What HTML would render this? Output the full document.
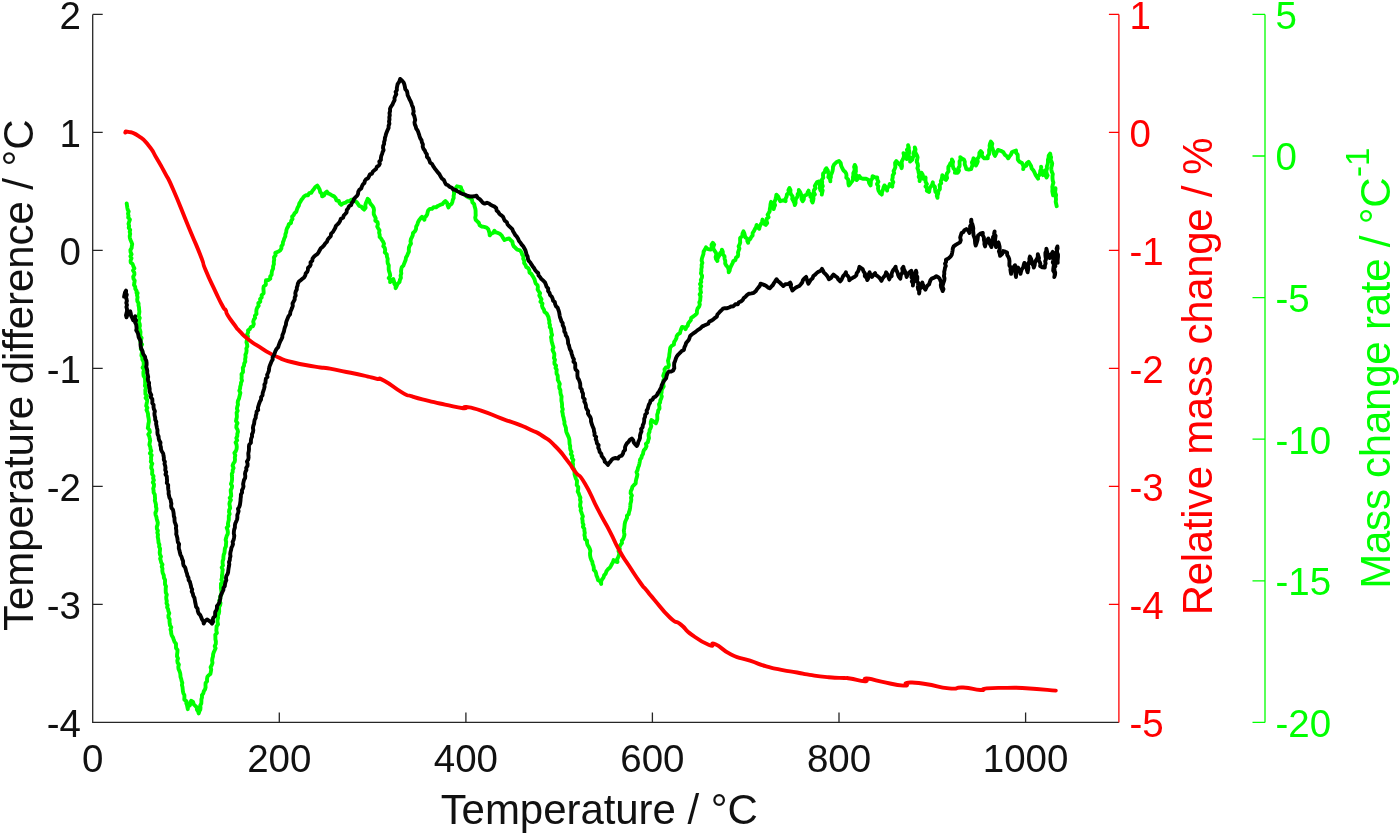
<!DOCTYPE html>
<html><head><meta charset="utf-8"><title>TG-DTA</title><style>
html,body{margin:0;padding:0;background:#fff;overflow:hidden}
svg{display:block}
text{font-family:"Liberation Sans",Arial,sans-serif}
</style></head><body>
<svg width="1400" height="835" viewBox="0 0 1400 835">
<rect width="1400" height="835" fill="#fff"/>
<g fill="none" stroke-linejoin="round" stroke-linecap="round">
<path d="M126.7 203.4L127.0 205.5L127.3 207.6L127.7 209.6L128.7 211.5L128.0 213.6L128.5 215.6L128.2 217.6L129.9 219.6L129.2 221.7L128.5 223.8L129.1 225.8L128.7 227.8L130.2 229.8L129.7 231.9L130.2 233.9L129.7 236.0L129.9 238.0L130.5 240.0L131.4 242.0L132.2 244.1L131.8 246.1L131.6 248.1L130.4 250.1L130.6 252.2L131.6 254.3L130.4 256.3L131.5 258.3L130.6 260.4L130.7 262.4L132.6 264.0L133.4 266.4L134.4 268.4L133.0 270.5L134.3 272.5L134.4 274.5L133.2 276.6L133.5 278.7L134.7 280.6L134.4 282.7L134.0 284.9L135.2 286.8L135.3 288.9L136.6 290.8L136.5 293.0L137.7 293.0L137.0 295.1L137.6 297.2L137.2 299.3L137.4 301.3L138.6 303.4L138.5 305.4L139.0 307.5L139.1 309.6L139.4 311.7L139.1 313.8L138.6 315.9L139.8 317.9L139.0 320.0L138.9 322.0L139.7 324.0L139.9 326.0L139.2 328.1L140.0 330.0L140.5 332.0L140.4 334.0L140.2 336.0L141.6 337.9L141.0 340.0L140.3 342.3L142.1 344.4L140.9 346.7L140.8 349.0L142.4 351.1L141.7 353.4L141.4 355.5L142.4 357.4L142.3 359.5L143.5 361.4L143.7 363.5L143.7 365.5L142.6 367.7L144.2 369.6L143.4 371.8L143.4 373.8L143.6 375.9L144.9 377.8L145.1 379.8L145.1 381.9L145.2 383.9L144.9 385.9L146.3 387.8L145.3 389.9L145.4 391.9L145.4 393.9L147.0 395.8L145.6 397.9L147.2 399.8L147.0 401.8L146.6 403.9L146.2 405.9L147.4 407.8L146.5 409.9L147.4 411.8L148.0 413.8L148.1 415.8L148.5 417.8L148.8 419.7L148.9 421.8L148.4 423.8L148.2 425.9L147.8 428.1L149.5 430.1L149.9 432.1L148.3 434.4L149.3 436.4L149.7 438.5L150.2 440.6L149.7 442.7L149.4 444.8L150.3 446.9L150.5 449.0L151.3 451.0L149.9 453.3L151.7 455.2L151.0 457.4L151.2 459.5L150.8 461.7L152.3 463.6L151.4 465.8L151.2 468.0L152.2 470.0L152.2 472.1L152.1 474.2L153.5 476.1L153.1 478.2L153.9 480.2L152.8 482.4L154.0 484.3L153.9 486.4L153.2 488.5L153.6 490.6L153.6 492.6L154.8 494.6L154.9 496.6L155.1 498.7L154.8 500.7L155.5 502.7L156.0 504.7L155.9 506.7L156.5 508.6L156.3 510.7L155.4 512.8L155.6 514.8L156.3 516.7L156.7 518.7L157.2 520.7L157.8 522.6L157.6 524.7L156.8 526.7L156.9 528.8L157.9 530.7L157.3 532.7L158.0 534.7L157.7 536.8L158.1 538.7L158.4 540.7L158.5 542.7L159.4 544.6L159.1 546.7L160.1 548.6L159.9 550.7L159.7 552.7L160.0 554.7L161.0 556.6L160.1 558.7L160.8 560.7L161.2 562.6L162.5 564.5L161.7 566.6L162.5 568.6L162.3 570.6L162.7 573.0L163.8 575.3L163.9 577.8L165.1 580.0L165.0 582.1L165.0 584.3L166.0 586.3L165.7 588.4L165.7 590.5L165.8 592.7L166.8 594.7L166.2 596.9L166.3 599.0L166.8 601.0L166.5 603.2L167.6 605.2L167.1 607.3L168.1 609.2L168.4 611.2L169.3 613.2L168.4 615.4L168.5 617.4L169.6 619.3L169.5 621.4L169.7 623.4L170.0 625.4L171.3 627.3L170.5 629.4L171.1 631.4L171.2 633.4L171.8 635.4L173.0 637.4L173.7 639.7L174.5 641.9L176.0 643.8L176.0 645.9L176.0 648.0L177.5 650.0L177.4 652.1L177.1 654.2L177.0 656.4L178.0 658.4L177.3 660.6L177.6 662.6L178.9 664.6L178.3 666.8L178.5 668.9L179.4 670.8L180.1 672.8L180.4 674.8L180.5 676.9L181.2 678.9L181.6 680.9L182.3 682.9L181.9 685.0L182.5 687.0L182.7 689.1L182.9 691.2L183.4 693.3L184.4 695.2L184.4 697.4L184.3 699.6L186.4 701.1L186.3 703.3L187.0 705.2L187.4 707.2L187.8 709.2L188.0 706.8L190.0 705.2L190.1 702.8L191.1 700.8L193.1 701.9L193.7 704.3L195.3 705.8L196.8 707.4L196.9 709.6L198.1 711.4L198.7 713.4L199.3 711.4L200.3 709.6L200.5 707.5L200.2 705.4L201.3 703.5L201.4 701.5L201.4 699.4L202.0 697.4L201.9 695.2L203.3 693.4L203.8 691.3L205.0 689.4L205.6 687.4L205.5 685.2L205.6 683.0L207.1 681.2L207.0 679.0L207.4 676.8L208.7 675.3L210.4 674.0L210.8 671.8L211.2 669.5L210.6 667.2L211.8 665.0L212.5 662.8L212.1 660.5L212.4 658.4L213.0 656.5L213.1 654.4L213.7 652.4L214.6 650.5L215.6 648.3L214.7 646.0L215.8 643.8L215.9 641.5L215.4 639.3L215.4 637.0L215.3 634.8L216.9 632.9L216.3 630.6L216.5 628.5L216.6 626.3L218.1 624.4L217.5 622.1L217.5 619.9L218.1 617.8L217.8 615.6L218.8 613.6L219.2 611.5L219.1 609.3L219.1 607.1L220.2 605.1L220.5 602.9L219.2 600.6L220.4 598.6L220.1 596.4L221.5 594.4L221.5 592.2L221.2 590.0L220.9 587.9L221.0 585.9L220.9 583.8L222.5 581.9L221.4 579.7L222.0 577.7L221.9 575.7L222.3 573.6L222.4 571.6L222.7 569.6L221.7 567.5L223.0 565.5L222.6 563.4L222.6 561.2L223.4 559.1L223.4 556.9L223.7 554.7L224.5 552.7L224.7 550.5L224.9 548.3L225.9 546.3L226.0 544.1L226.2 541.9L225.6 539.8L226.2 537.9L226.7 535.9L227.7 534.0L227.9 532.0L227.5 529.9L226.7 527.8L228.3 525.9L227.9 523.9L228.3 521.9L228.8 519.9L228.8 517.9L228.8 515.9L229.7 514.0L229.0 511.9L229.2 509.9L230.2 508.0L229.8 505.9L229.4 503.9L229.8 501.9L230.9 500.0L229.7 497.9L231.2 496.0L231.1 494.0L230.8 491.9L230.7 489.9L231.8 488.0L232.1 486.0L230.9 483.9L231.7 482.0L232.0 480.0L232.1 478.0L231.9 476.0L231.8 473.9L232.7 472.0L232.7 470.0L233.6 468.0L232.6 465.7L233.3 463.6L234.7 461.7L235.0 459.6L234.8 457.4L235.3 455.3L234.4 453.0L235.9 451.0L236.6 448.9L236.8 446.8L236.5 444.6L235.6 442.4L237.2 440.4L236.3 438.1L237.3 436.1L237.3 433.9L238.0 431.7L237.5 429.6L236.3 427.5L236.5 425.3L237.5 423.1L236.0 421.0L236.5 418.8L236.9 416.8L236.8 414.8L236.6 412.7L237.7 410.8L236.9 408.6L237.3 406.7L238.0 404.7L237.7 402.6L238.0 400.6L239.0 398.7L239.4 396.7L239.9 394.7L240.4 392.8L239.3 390.6L240.1 388.6L240.2 386.6L240.9 384.7L241.0 382.6L242.0 380.7L241.5 378.6L241.7 376.4L241.5 374.2L243.0 372.2L243.0 370.0L242.8 367.7L244.0 365.7L244.2 363.5L245.3 361.5L245.1 359.2L245.6 357.0L245.4 354.8L246.3 352.7L246.6 350.5L246.3 348.5L247.3 346.5L247.1 344.5L246.5 342.4L246.8 340.4L247.2 338.4L248.0 336.5L247.1 334.4L248.2 332.4L248.0 330.4L249.8 329.2L250.8 327.0L253.0 326.1L253.8 324.1L253.2 321.8L253.8 319.7L255.1 317.9L254.9 315.7L256.5 313.9L256.3 311.6L256.5 309.5L257.3 307.5L258.7 305.7L258.3 303.1L260.3 301.6L260.1 299.1L261.7 297.4L261.6 295.1L263.6 293.3L263.6 291.0L263.4 288.7L263.7 286.5L265.8 284.7L265.8 282.4L266.0 280.2L268.3 280.0L270.3 278.7L270.2 276.5L271.6 274.8L271.7 272.6L272.1 270.6L273.1 268.7L273.1 266.4L273.9 264.2L273.8 261.9L274.2 259.6L274.0 257.3L275.6 255.2L275.3 252.9L277.9 251.8L280.2 250.3L281.4 248.5L281.4 246.3L282.8 244.5L282.9 242.3L283.7 240.4L284.3 238.3L285.3 236.4L285.4 234.2L286.2 232.3L286.4 230.1L287.1 228.1L288.2 226.4L288.8 224.3L291.0 223.0L291.2 220.8L292.5 219.1L292.1 216.7L293.7 215.1L294.6 213.2L296.3 211.7L296.9 209.6L297.7 207.5L298.8 205.7L299.3 203.5L300.4 201.7L301.5 199.8L302.8 198.2L304.1 196.4L305.8 195.3L308.0 195.2L309.2 193.1L311.3 192.8L312.5 190.7L314.0 188.9L315.3 187.0L317.3 185.6L318.6 187.6L319.7 189.7L320.2 192.1L321.9 193.9L322.1 196.4L324.2 195.3L325.1 193.0L326.9 191.6L328.3 193.5L330.3 194.3L332.1 195.5L334.1 196.4L335.6 198.0L336.4 200.3L338.9 201.0L339.6 203.3L341.3 204.8L343.1 203.3L345.5 202.7L347.3 201.2L349.4 201.2L351.2 199.8L353.3 200.0L355.2 201.1L356.9 202.4L358.1 204.2L359.3 206.0L361.4 206.6L362.6 208.3L364.1 209.6L365.6 207.7L365.3 205.2L365.9 203.0L366.9 200.9L367.7 198.8L369.2 200.4L369.8 202.6L371.0 204.4L372.5 206.0L373.6 207.9L374.0 210.0L373.7 212.2L373.8 214.4L374.8 216.3L375.7 218.3L375.3 220.6L377.5 222.2L377.9 224.3L377.2 226.6L378.3 228.5L379.5 230.4L379.1 232.7L379.7 234.7L379.6 236.9L381.1 238.5L382.1 240.2L383.2 241.9L384.0 243.8L383.3 246.2L384.7 247.8L385.2 250.0L384.8 252.4L386.8 254.3L386.9 256.6L387.7 258.8L387.5 261.1L387.8 263.4L388.8 265.4L388.7 267.5L388.7 269.6L389.2 271.7L389.9 273.7L390.2 275.8L388.7 278.0L390.4 280.0L390.1 282.1L391.7 280.6L393.2 279.0L394.0 281.3L394.3 283.7L395.7 285.8L395.6 288.3L396.6 286.1L397.6 283.8L399.5 282.1L399.9 279.9L400.9 277.8L400.6 275.6L401.3 273.5L401.0 271.2L401.3 269.1L401.8 267.1L403.4 265.6L404.1 263.7L404.9 261.8L405.7 259.8L406.0 257.6L407.1 255.7L407.9 253.7L408.9 251.7L408.8 249.4L409.0 247.3L409.8 245.4L411.0 243.6L410.5 241.3L410.9 239.2L411.8 237.3L412.7 235.4L413.0 232.9L415.0 231.2L416.0 229.1L416.2 226.5L417.4 224.5L418.0 222.2L419.1 220.2L420.5 218.4L422.0 216.7L424.4 219.8L424.6 217.7L426.1 216.1L427.2 214.4L427.6 212.3L428.2 210.4L429.8 208.9L432.0 208.8L433.7 207.1L436.0 207.4L437.9 205.9L440.0 204.9L442.3 204.2L443.7 202.5L445.4 201.1L447.1 202.9L447.6 205.2L448.5 207.4L449.5 205.4L451.5 204.0L452.4 201.9L452.8 199.9L453.7 198.0L453.6 195.9L454.1 193.9L453.9 191.8L455.1 190.0L455.9 188.1L457.0 186.3L460.9 187.1L461.4 189.3L462.6 191.1L463.1 193.3L464.8 194.9L466.4 196.3L468.3 197.3L470.3 198.0L472.0 199.8L472.4 202.4L474.2 204.2L474.6 206.4L475.3 208.6L475.6 210.8L475.6 213.1L475.7 215.3L475.2 217.6L475.7 219.8L477.3 221.4L478.9 223.0L479.6 225.3L481.8 226.5L484.2 226.9L486.6 227.6L488.2 229.2L488.9 231.2L489.5 233.2L489.7 235.4L491.1 233.7L493.3 232.7L494.4 230.7L495.8 232.4L497.9 232.9L499.8 233.8L501.8 235.6L503.0 237.9L504.5 240.0L506.8 239.0L509.2 238.5L510.7 240.2L512.4 241.7L512.8 244.2L513.7 246.3L515.4 247.8L517.2 249.7L520.0 250.4L521.6 252.5L522.2 254.6L523.5 256.5L523.2 258.8L524.3 260.7L524.1 263.1L525.5 264.9L526.2 267.0L528.4 268.2L529.3 270.2L529.5 272.6L531.4 273.9L532.5 275.8L533.6 277.6L534.6 279.5L535.1 281.6L535.8 283.6L537.5 285.1L537.9 287.2L537.6 289.4L538.7 291.3L540.1 293.2L539.3 295.5L540.4 297.4L541.5 299.3L540.4 301.7L542.5 303.4L542.0 305.7L542.6 307.7L543.9 309.6L544.5 311.9L546.5 313.3L547.6 315.3L548.5 317.1L548.8 319.1L549.4 321.1L549.2 323.1L550.0 325.0L549.7 327.1L551.0 328.9L551.2 330.9L551.4 332.9L552.1 334.9L551.0 337.2L551.4 339.2L551.6 341.3L552.2 343.4L552.8 345.4L553.5 347.5L552.5 349.7L553.3 351.7L554.3 353.7L554.3 355.8L553.9 358.0L555.0 359.8L554.4 362.0L554.5 364.0L556.1 365.7L555.5 367.9L556.7 369.7L556.5 371.8L556.6 373.8L557.7 375.6L557.8 377.7L557.8 379.9L558.8 381.9L559.8 383.9L559.2 386.1L559.4 388.2L560.4 390.2L560.4 392.4L560.8 394.5L561.6 396.5L561.4 398.7L561.4 400.8L561.9 402.9L562.1 405.0L562.0 407.1L562.8 409.1L562.1 411.4L562.7 413.4L562.9 415.6L563.6 417.6L563.9 419.7L564.5 421.7L564.4 423.9L565.2 425.9L565.9 427.9L566.0 430.0L566.4 432.0L567.2 433.9L568.1 435.9L568.9 437.8L569.4 439.8L569.5 441.9L569.6 444.0L570.2 446.0L570.1 448.1L570.5 450.1L571.6 451.9L570.8 454.1L572.3 455.9L571.9 458.1L573.4 459.9L572.6 462.1L573.0 464.1L572.9 466.1L573.3 468.1L574.4 470.0L574.5 472.2L574.6 474.4L575.2 476.5L575.9 478.6L577.0 480.6L576.9 482.8L576.7 485.1L578.2 487.0L578.2 489.2L577.7 491.5L578.8 493.5L579.4 495.5L580.4 497.6L580.0 499.8L580.7 501.8L580.2 504.1L580.1 506.3L581.1 508.3L580.6 510.4L581.4 512.4L582.1 514.4L582.9 516.4L582.1 518.6L582.6 520.6L582.6 522.7L583.5 524.7L582.9 526.8L584.3 528.7L584.4 530.8L584.8 532.8L584.4 535.0L584.9 537.0L585.0 539.2L587.0 540.6L587.0 542.8L587.5 544.9L588.7 546.6L589.7 548.7L590.4 550.8L590.0 553.1L590.1 555.4L590.5 557.6L591.2 559.7L592.3 561.7L592.6 563.9L593.4 565.8L593.8 567.7L593.8 569.9L595.5 571.5L596.1 573.4L596.4 575.4L597.4 577.6L598.1 580.1L600.5 581.6L601.2 584.0L601.1 581.6L602.0 579.5L603.5 577.6L604.1 575.4L605.7 573.6L606.5 571.2L607.9 569.3L609.8 567.7L610.9 565.9L611.9 564.0L613.0 562.1L613.6 560.0L615.4 561.4L617.5 562.0L617.0 559.7L618.0 557.6L618.9 555.5L619.4 553.3L618.5 551.0L619.8 548.9L619.4 546.6L620.6 544.8L622.0 543.1L621.8 540.7L623.2 539.0L623.9 536.9L624.5 534.8L624.1 532.6L623.8 530.4L624.3 528.3L624.5 526.1L624.7 524.0L625.2 521.8L626.1 519.8L627.0 517.9L626.9 515.7L628.7 514.2L629.0 512.1L629.7 510.1L630.1 508.0L630.3 505.9L630.4 503.8L631.0 501.8L631.3 499.7L631.0 497.6L631.9 495.5L630.6 493.3L630.8 491.2L631.8 489.2L632.4 486.8L634.0 485.0L635.7 483.4L635.8 481.1L636.3 478.9L637.0 476.7L637.4 474.5L636.5 472.1L637.6 470.0L638.0 467.8L638.9 465.8L639.4 463.6L639.8 461.6L640.1 459.5L641.5 457.8L641.8 455.8L643.0 454.0L643.3 451.9L644.0 450.0L645.6 448.3L646.5 446.3L645.9 443.7L647.9 442.2L648.3 440.0L649.0 438.1L648.6 435.9L648.6 433.9L649.5 432.0L649.6 430.0L650.6 428.1L651.3 426.1L650.7 424.0L650.8 421.9L651.5 420.0L653.7 421.6L655.9 423.3L656.7 421.2L657.3 419.1L657.3 416.8L657.2 414.6L658.0 412.5L658.2 410.4L659.5 408.6L659.4 406.5L659.0 404.3L660.1 402.5L660.3 400.4L661.2 398.5L661.8 396.5L661.0 394.3L661.6 392.4L661.6 390.3L662.5 388.4L663.7 386.5L663.2 384.3L663.4 382.3L663.4 380.1L664.5 378.1L663.2 375.8L663.9 373.7L664.9 371.6L664.5 369.4L665.9 367.5L668.2 367.2L668.9 365.1L668.4 362.9L668.0 360.7L668.6 358.6L669.2 356.4L669.3 354.3L669.7 352.2L669.9 350.0L670.3 347.7L671.6 345.9L673.9 344.6L674.1 342.1L675.3 340.2L676.4 338.3L676.7 336.1L677.9 334.3L680.0 333.0L680.5 330.9L681.2 328.8L682.1 326.9L684.3 327.4L685.5 329.2L686.3 327.2L687.8 325.6L688.2 323.4L689.5 321.7L690.9 320.0L691.2 317.8L693.3 316.5L695.2 315.0L696.9 313.3L696.9 310.8L697.6 308.5L699.2 306.5L699.8 304.5L699.3 302.4L700.2 300.5L700.3 298.4L700.6 296.4L699.7 294.4L701.0 292.4L700.6 290.4L700.3 288.3L701.2 286.2L700.0 284.0L701.3 282.0L700.8 279.8L701.9 277.7L702.1 275.6L700.9 273.4L701.4 271.3L701.3 269.1L701.8 267.0L701.6 264.9L702.4 262.8L701.6 260.6L701.9 258.5L702.6 256.4L703.4 254.1L703.6 251.6L704.9 249.5L706.0 247.3L707.9 249.1L710.5 249.6L711.9 247.6L711.5 244.9L712.8 242.8L714.2 244.6L713.2 247.0L713.5 249.1L714.7 250.9L716.0 252.8L716.3 254.8L715.6 257.1L716.1 259.2L717.4 261.0L717.4 258.8L718.4 257.0L719.5 255.3L720.0 253.2L721.6 251.7L721.9 249.6L722.8 251.8L722.8 254.3L724.5 256.3L724.6 258.7L725.3 261.0L725.2 263.5L726.3 265.6L728.0 267.6L728.7 269.8L728.7 272.3L729.7 270.5L730.0 268.4L730.8 266.6L731.7 264.8L732.7 262.9L733.3 261.0L735.4 260.1L736.0 257.6L737.8 256.4L738.2 254.4L738.0 252.4L738.7 250.4L739.4 248.5L738.6 246.4L739.5 244.5L740.2 242.5L740.1 240.5L740.1 237.9L742.3 236.1L742.5 233.6L743.5 231.4L744.3 233.3L744.8 235.3L745.3 237.3L747.3 238.7L747.3 240.9L748.1 242.8L748.5 240.5L750.2 239.0L751.2 237.1L752.6 235.4L752.6 233.0L753.9 231.1L754.9 229.1L756.1 227.1L756.6 224.9L757.3 227.3L759.2 228.8L759.8 226.4L760.9 224.2L762.0 222.0L762.5 219.6L762.9 221.8L764.0 223.6L765.8 224.9L767.2 223.1L766.5 220.9L766.7 218.8L768.6 217.2L767.6 214.8L768.7 213.0L769.7 211.2L769.8 209.1L770.3 206.7L770.5 204.2L771.1 201.8L771.2 204.5L773.2 206.5L773.7 209.1L774.2 207.0L775.1 205.1L774.2 202.8L775.0 200.8L775.6 198.7L776.1 196.7L776.4 194.6L778.2 196.5L779.1 199.0L780.3 201.2L783.0 200.4L785.6 201.2L785.5 198.8L786.6 196.7L786.9 194.4L789.0 192.6L788.4 190.1L789.5 188.0L790.5 190.0L790.3 192.4L791.1 194.5L792.6 196.4L792.2 198.9L793.3 200.9L794.3 202.9L794.8 205.1L795.6 203.0L795.5 200.7L796.1 198.5L797.7 196.6L797.6 194.3L798.9 192.3L798.8 190.0L800.1 192.0L801.0 194.3L801.9 196.5L801.5 199.1L802.7 201.2L803.8 199.5L803.9 197.2L804.9 195.5L807.1 194.4L807.6 192.4L808.6 190.6L808.6 192.8L810.7 194.3L810.4 196.6L811.9 198.3L811.6 200.6L812.6 202.5L813.2 200.5L813.5 198.4L813.2 196.2L814.9 194.4L813.7 192.1L814.0 190.0L815.5 188.2L814.8 185.9L815.9 184.0L817.1 182.1L819.2 181.4L819.7 183.6L819.8 185.9L819.8 188.1L820.5 190.3L822.1 192.3L821.8 194.6L822.2 192.5L822.7 190.4L821.5 188.2L822.8 186.2L822.0 184.0L822.2 181.9L821.8 179.8L823.3 177.7L823.0 175.6L823.1 173.5L824.8 172.1L825.2 169.9L826.4 168.2L827.7 170.2L828.2 172.5L828.8 174.7L828.3 177.2L830.2 179.0L830.4 181.4L830.0 179.2L830.9 177.2L830.8 175.1L831.8 173.1L832.5 171.1L832.9 169.0L833.0 166.9L834.2 164.3L836.3 162.3L839.0 161.0L840.7 163.1L841.2 165.8L842.3 168.2L843.3 170.2L845.0 171.7L846.2 173.5L846.5 175.5L846.3 177.6L848.1 179.3L848.3 181.3L848.4 183.4L848.8 185.4L850.5 183.4L852.1 181.4L853.1 179.5L852.9 177.3L853.4 175.3L853.3 173.1L854.3 171.2L854.7 169.1L854.1 166.9L854.8 164.9L855.8 167.0L855.8 169.2L855.9 171.4L855.2 173.7L856.6 175.7L856.2 178.0L856.7 180.1L858.3 178.2L859.4 176.1L860.9 178.1L863.3 178.8L866.1 178.8L868.6 180.1L869.1 182.9L870.6 185.4L870.8 183.0L870.9 180.6L872.3 178.5L872.6 176.1L874.7 177.3L877.2 177.4L877.3 179.6L878.4 181.7L877.0 184.1L878.3 186.2L878.0 188.4L878.5 190.6L879.8 192.9L881.8 194.6L882.0 192.2L882.9 190.0L883.5 187.6L884.4 185.4L886.4 187.7L887.1 190.6L887.2 188.1L889.2 186.3L889.7 184.0L892.3 186.7L892.3 184.4L893.3 182.2L892.1 179.9L892.7 177.6L892.7 175.4L894.2 173.2L893.6 170.9L894.6 169.1L895.4 167.1L895.2 165.0L895.1 162.8L896.3 161.0L897.7 162.7L899.3 164.3L901.0 165.9L901.6 168.2L902.0 166.1L901.8 163.8L901.7 161.6L902.7 159.6L903.7 157.5L904.0 155.4L903.5 153.1L904.7 155.0L906.3 156.7L906.8 159.0L907.5 156.7L906.5 154.3L907.5 152.1L906.9 149.7L908.8 147.6L908.1 145.2L908.3 147.3L908.7 149.3L909.3 151.3L909.0 153.4L908.5 155.6L909.7 157.5L910.4 159.5L910.1 161.6L912.4 159.5L912.8 157.5L913.9 155.6L913.4 153.5L914.2 151.5L915.1 149.6L914.8 147.5L915.5 149.4L915.1 151.6L915.9 153.5L917.0 155.4L917.6 157.3L917.2 159.5L916.7 161.7L917.7 163.8L918.0 166.0L917.4 168.2L918.3 170.3L918.6 172.5L919.3 174.6L918.7 176.8L919.8 178.9L919.6 181.1L920.0 179.0L921.0 177.0L921.1 174.8L921.4 172.7L922.6 174.5L923.1 176.5L923.2 178.7L925.6 177.5L925.5 179.7L925.6 181.9L926.9 184.0L925.5 186.4L927.3 188.4L926.8 190.7L929.2 191.9L929.4 189.8L929.9 187.8L931.3 186.1L932.3 184.3L932.8 182.3L933.0 184.9L934.9 186.9L935.1 189.5L935.4 191.7L937.0 193.5L936.8 195.8L937.5 197.8L937.5 195.6L938.2 193.5L938.2 191.2L939.8 189.3L939.9 187.1L939.6 185.0L941.2 183.2L940.8 181.0L941.7 179.1L942.1 177.1L942.3 175.1L943.5 176.7L944.2 178.7L945.9 179.9L947.1 177.9L946.5 175.5L947.0 173.4L948.5 171.4L948.3 169.1L948.4 166.9L949.6 165.2L950.3 163.3L952.0 161.7L951.9 159.5L953.1 161.6L952.6 164.0L952.9 166.2L953.5 168.4L955.3 170.3L954.9 172.7L957.9 172.7L959.0 170.6L958.3 168.2L959.6 166.1L959.6 163.8L959.5 161.5L960.6 159.4L960.3 157.1L961.9 158.6L963.9 159.5L964.8 161.8L964.7 164.4L965.7 166.7L966.3 169.1L968.7 169.5L971.1 169.1L971.8 167.0L972.6 164.9L971.9 162.5L973.0 160.5L973.5 158.3L975.2 160.4L974.6 163.3L975.9 165.5L977.0 163.6L977.8 161.6L977.2 159.1L978.7 157.3L979.3 155.2L979.4 152.9L980.7 151.1L982.1 152.7L981.7 155.1L982.8 156.8L984.3 158.3L987.8 158.3L987.7 156.1L989.1 154.2L989.2 152.1L989.1 149.9L989.9 147.9L989.6 145.7L990.0 143.6L990.8 141.6L992.3 143.7L991.7 146.4L992.6 148.7L993.3 151.1L993.8 153.6L995.0 155.9L996.0 153.9L996.9 151.8L998.0 149.9L1000.8 150.8L1003.4 152.3L1004.7 154.6L1006.8 156.2L1008.2 158.3L1009.5 156.4L1011.0 154.5L1011.8 152.3L1013.9 151.3L1016.0 150.5L1016.1 152.8L1017.7 154.8L1017.8 157.2L1017.8 159.5L1019.5 161.8L1022.0 163.1L1023.0 165.0L1023.6 166.9L1023.2 169.1L1023.9 166.8L1026.3 165.8L1026.7 163.3L1028.6 161.9L1029.9 164.0L1031.1 166.0L1031.7 168.5L1033.4 170.3L1034.6 172.7L1035.7 175.1L1036.9 176.9L1038.1 178.7L1037.8 176.5L1039.6 174.8L1040.1 172.8L1040.3 170.8L1041.2 168.8L1041.1 166.7L1041.3 168.8L1041.6 171.0L1041.8 173.1L1042.9 175.1L1044.3 172.8L1045.3 170.3L1046.6 172.6L1045.4 175.2L1046.5 177.5L1047.6 175.4L1046.4 173.1L1046.3 170.8L1047.0 168.7L1046.8 166.4L1047.7 164.3L1048.0 162.1L1047.9 159.8L1048.6 157.7L1048.7 155.5L1050.1 153.5L1050.5 155.5L1051.1 157.4L1050.6 159.6L1051.5 161.5L1052.2 163.4L1051.9 165.5L1051.2 167.7L1051.4 169.8L1051.8 171.9L1052.8 174.0L1052.5 176.2L1052.5 178.3L1052.7 180.4L1053.4 182.6L1052.8 184.7L1052.3 186.9L1052.5 189.0L1052.3 191.2L1052.7 193.3L1053.1 195.4L1054.3 193.2L1055.3 190.9L1055.5 188.3L1054.9 190.6L1055.3 192.8L1056.1 195.0L1055.8 197.3L1056.0 199.5L1055.7 201.8L1056.2 204.0L1056.7 206.2" stroke="#00ff00" stroke-width="3.9"/>
<path d="M125.3 132.6C126.3 132.3 124.0 130.7 128.3 131.8C132.6 132.9 131.5 131.4 138.3 135.9C145.1 140.4 142.4 137.8 148.6 145.4C154.8 153.0 151.4 149.4 156.8 158.6C162.2 167.8 159.4 162.4 164.9 172.9C170.4 183.4 165.5 172.0 173.4 190.0C181.3 208.0 179.5 205.0 188.6 226.9C197.7 248.8 194.9 241.3 200.6 255.7C206.3 270.1 200.6 257.9 205.6 270.0C210.6 282.1 210.0 280.0 215.7 292.1C221.4 304.2 219.4 300.2 222.7 306.2C226.0 312.2 224.0 307.2 225.7 310.2C227.4 313.2 224.7 310.4 227.7 315.3C230.7 320.2 230.6 319.6 234.6 325.0C238.6 330.4 235.2 326.6 239.8 331.4C244.4 336.2 242.1 334.4 248.5 339.5C254.9 344.6 251.9 342.1 259.1 346.7C266.3 351.3 263.9 350.0 270.0 353.4C276.1 356.8 270.3 354.1 277.5 357.0C284.7 359.9 279.0 358.8 291.5 362.0C304.0 365.2 302.1 364.4 314.9 366.6C327.7 368.8 319.5 366.9 330.0 368.7C340.5 370.5 335.4 369.8 346.4 372.0C357.4 374.2 353.0 373.1 362.9 375.3C372.8 377.5 368.9 376.8 376.0 378.6C383.1 380.4 375.4 376.0 384.2 380.7C393.0 385.4 393.0 387.4 402.3 392.6C411.6 397.8 403.3 393.7 412.1 396.4C420.9 399.1 417.6 398.1 428.6 400.8C439.6 403.5 433.5 402.1 445.0 404.6C456.5 407.1 456.0 407.4 463.1 408.2C470.2 409.0 460.4 406.2 466.4 407.0C472.4 407.8 469.1 406.6 481.1 410.6C493.1 414.6 489.9 414.2 502.5 418.9C515.1 423.6 509.4 420.9 518.9 424.6C528.4 428.3 523.1 426.2 531.0 430.0C538.9 433.8 534.6 430.7 542.6 436.0C550.6 441.3 546.7 437.6 555.1 446.0C563.5 454.4 561.0 452.5 567.7 461.1C574.4 469.7 569.6 464.5 575.3 471.9C581.0 479.3 577.2 470.6 584.9 483.4C592.6 496.2 590.0 494.2 598.3 510.2C606.6 526.2 602.8 517.9 609.8 531.3C616.8 544.7 613.0 539.0 619.4 550.5C625.8 562.0 622.0 555.0 629.0 565.8C636.0 576.6 634.7 574.9 640.5 583.0C646.3 591.1 641.8 584.5 646.3 590.0C650.8 595.5 646.2 590.2 654.1 599.4C662.0 608.6 661.0 609.1 669.9 617.5C678.8 625.9 673.6 618.8 680.9 624.6C688.2 630.4 682.5 628.0 691.9 634.8C701.3 641.6 701.3 641.9 709.1 645.0C716.9 648.1 708.1 641.1 715.4 644.2C722.7 647.3 719.6 648.9 731.1 654.4C742.6 659.9 738.5 656.8 750.0 660.7C761.5 664.6 755.2 663.2 765.7 666.2C776.2 669.2 770.9 667.7 781.4 669.8C791.9 671.9 787.7 670.8 797.1 672.5C806.5 674.2 799.2 673.3 809.7 674.9C820.2 676.5 817.1 676.2 828.6 677.2C840.1 678.2 837.2 677.6 844.3 678.0C851.4 678.4 843.1 677.4 850.0 678.5C856.9 679.6 859.4 681.2 864.9 681.2C870.4 681.2 861.0 678.4 866.5 678.5C872.0 678.6 869.1 679.2 881.4 681.6C893.7 684.0 894.5 685.2 903.4 685.6C912.3 686.0 900.8 683.2 908.1 682.7C915.4 682.2 911.8 682.1 925.4 684.0C939.0 685.9 936.4 687.2 949.0 688.4C961.6 689.6 952.6 687.0 963.1 687.5C973.6 688.0 972.5 689.7 980.4 690.0C988.3 690.3 977.8 689.1 986.7 688.4C995.6 687.7 994.0 688.0 1007.1 687.9C1020.2 687.8 1009.8 687.3 1026.0 688.2C1042.2 689.1 1045.9 689.8 1055.8 690.6" stroke="#ff0000" stroke-width="3.9"/>
<path d="M124.1 296.7L124.5 294.6L125.0 292.5L126.1 290.6L125.9 292.7L126.8 294.7L126.1 296.8L126.4 298.8L126.9 300.9L126.3 302.9L127.0 305.0L126.4 307.0L127.0 309.1L127.0 311.1L126.5 313.2L126.0 315.3L126.5 317.3L127.3 315.0L128.6 313.0L130.2 311.2L130.8 313.5L131.1 315.9L132.3 318.1L133.2 320.3L134.1 318.2L135.2 316.3L134.7 318.3L136.1 320.3L135.1 322.3L136.1 324.3L136.4 326.3L136.6 328.3L136.2 330.3L137.4 332.2L138.2 334.4L138.7 337.3L140.1 340.0L140.8 342.0L140.5 344.2L140.7 346.3L141.2 348.4L142.4 351.1L143.2 354.0L145.1 356.8L145.3 358.8L146.3 360.7L146.6 362.8L146.6 364.8L146.2 366.9L146.9 368.9L147.3 370.9L147.2 372.9L147.7 374.9L148.2 376.9L147.8 379.0L148.2 381.0L149.1 382.9L148.9 385.0L149.3 387.0L149.7 389.0L149.6 391.1L150.2 393.1L151.3 395.0L150.7 397.2L152.3 399.0L152.4 401.0L152.3 403.2L153.6 405.0L153.5 407.1L153.9 409.2L154.9 411.2L154.4 413.4L154.6 415.5L155.2 417.6L155.2 419.8L156.3 421.7L156.1 423.9L156.6 426.0L157.0 428.1L157.5 430.1L157.4 432.3L157.6 434.4L158.6 436.4L158.7 438.5L159.3 440.6L160.5 442.6L160.2 445.0L160.9 447.1L161.0 449.4L161.9 451.5L163.2 453.5L163.5 455.7L163.9 457.7L163.8 459.8L164.9 461.7L164.5 463.9L165.2 465.9L165.5 467.9L165.2 470.0L166.2 472.1L165.5 474.4L166.8 476.4L166.9 478.6L167.1 480.8L166.8 483.0L168.2 485.0L168.1 487.3L168.3 489.5L168.7 491.6L168.6 493.7L169.1 495.8L169.5 497.8L170.7 499.7L170.9 501.7L171.4 503.8L171.1 505.9L171.5 508.0L173.0 509.8L173.4 511.8L173.7 513.9L173.8 516.0L174.5 518.0L174.5 520.0L174.7 522.1L175.5 524.0L176.2 526.0L175.9 528.1L176.3 530.1L176.4 532.1L176.2 534.2L176.9 536.2L177.4 538.2L177.6 540.2L177.9 542.2L179.1 544.1L178.8 546.2L178.8 548.5L179.5 550.6L179.9 552.8L180.5 554.9L181.6 556.9L182.2 559.1L183.1 561.1L183.1 563.4L183.6 565.5L185.1 567.4L185.7 569.4L186.2 571.6L187.0 573.6L187.4 575.8L188.5 577.7L188.6 580.0L189.9 581.7L190.3 583.7L190.9 585.6L191.2 587.6L192.2 589.4L191.7 591.6L192.8 593.4L193.2 595.7L194.4 597.7L194.8 600.0L195.2 602.3L195.7 604.5L196.1 606.8L197.6 608.7L197.8 611.2L198.6 613.4L200.3 615.2L201.2 617.3L202.0 619.4L203.4 621.3L203.7 623.6L204.9 621.2L207.0 619.4L208.8 620.6L210.6 621.9L212.1 623.6L213.1 621.8L212.8 619.6L213.3 617.7L215.1 616.1L215.1 614.0L215.2 612.0L216.3 610.2L217.0 608.3L216.9 606.2L218.1 604.5L219.3 602.7L219.8 600.8L220.2 598.8L220.5 596.8L221.2 594.4L222.3 592.2L223.4 590.0L223.5 587.9L224.8 586.1L225.0 584.1L225.5 582.1L226.3 580.2L226.0 578.1L226.3 576.0L227.5 574.2L228.1 572.3L228.3 570.2L228.6 568.2L229.0 566.2L229.3 564.2L229.0 562.1L229.8 560.2L229.9 558.2L230.5 556.2L230.2 554.1L230.5 552.0L231.1 550.0L231.4 547.9L232.3 546.0L233.0 544.0L232.6 541.8L233.6 539.9L234.0 537.9L234.3 535.8L233.8 533.6L233.9 531.5L234.2 529.5L234.9 527.5L234.9 525.4L235.3 523.3L236.3 521.4L237.1 519.4L237.4 517.3L237.3 515.2L238.0 513.1L238.6 511.1L238.0 508.9L239.2 507.0L239.9 505.0L240.2 502.9L240.5 500.8L240.6 498.7L240.9 496.6L240.9 494.5L242.1 492.5L241.9 490.3L242.9 488.4L243.5 486.4L243.1 484.1L243.5 482.1L244.0 480.0L245.1 478.1L245.3 476.1L245.0 473.9L245.4 471.9L246.4 470.0L246.2 467.8L247.5 465.9L247.6 463.8L246.9 461.5L248.2 459.6L248.6 457.5L248.4 455.3L248.3 453.2L248.8 451.1L249.0 449.0L248.9 446.8L249.2 444.7L250.9 442.8L250.9 440.6L251.2 438.5L252.1 436.5L251.9 434.3L252.9 432.3L253.3 430.2L252.9 427.9L253.3 425.8L254.1 423.8L254.3 421.7L254.7 419.7L255.7 417.8L255.8 415.7L256.5 413.7L256.6 411.6L258.2 409.9L257.9 407.7L258.5 405.7L259.1 403.7L259.9 401.6L261.1 399.6L261.1 397.2L262.5 395.3L262.7 392.9L263.4 390.8L264.1 388.6L264.6 386.7L264.4 384.5L265.5 382.7L265.6 380.7L265.9 378.7L267.5 377.0L267.1 374.8L268.0 373.0L268.8 371.1L269.1 369.1L269.3 367.1L270.0 365.2L270.8 363.2L271.6 361.3L272.7 359.4L272.6 357.1L273.9 355.4L274.6 353.4L275.4 351.1L276.5 349.0L278.2 347.1L278.9 344.8L279.6 342.9L280.4 341.0L281.4 339.2L282.3 337.3L282.4 335.2L283.2 333.3L284.0 331.2L284.4 329.0L285.0 326.9L285.9 324.8L286.1 322.5L286.8 320.4L287.7 318.3L288.6 316.1L290.1 314.2L290.4 311.8L291.3 309.8L292.1 307.8L292.8 305.8L292.5 303.5L293.6 301.5L294.7 299.6L294.7 297.4L295.7 295.5L295.3 293.3L295.8 291.3L296.8 289.5L296.8 287.4L297.6 285.5L297.9 283.4L299.0 281.6L300.7 280.2L302.4 278.8L304.1 277.4L305.3 275.5L305.7 273.4L307.2 271.9L307.9 270.0L308.0 267.8L309.8 266.4L310.7 264.6L310.5 262.3L312.3 260.8L312.5 258.7L313.8 256.9L315.4 255.3L317.3 254.1L318.6 252.3L319.7 250.3L320.8 248.3L322.5 246.9L324.0 245.3L325.3 243.4L326.9 241.9L327.7 239.7L329.1 237.8L330.8 236.1L331.1 233.6L333.0 231.9L334.1 229.9L335.2 228.1L335.9 225.9L337.5 224.4L339.0 222.8L340.1 221.0L340.8 218.8L343.1 217.8L343.7 215.6L345.2 214.0L346.6 212.4L346.8 209.9L348.2 208.2L349.2 206.2L351.2 205.0L351.8 202.8L353.3 201.2L353.9 199.1L355.3 197.4L357.0 195.9L358.0 194.0L358.3 191.7L359.3 189.8L361.3 188.4L361.9 186.3L362.9 184.4L364.4 183.0L364.9 180.8L366.1 179.2L368.1 178.2L369.0 176.3L369.9 174.4L372.0 173.6L372.8 171.6L374.4 170.2L376.1 168.9L376.9 166.7L378.8 165.6L379.8 163.8L379.3 161.6L380.9 159.9L380.9 157.8L381.3 155.8L382.1 154.0L382.6 152.0L383.6 150.1L383.0 147.9L383.2 145.9L384.1 144.0L384.1 141.9L384.8 140.0L384.9 137.8L385.6 135.8L386.1 133.8L386.9 131.8L387.7 129.8L388.6 127.9L388.6 125.8L389.4 123.7L389.0 121.5L389.5 119.5L389.3 117.3L389.8 115.2L389.5 113.1L390.1 111.0L390.0 108.8L390.9 106.8L392.4 104.7L393.4 102.3L394.6 100.0L394.5 97.9L395.3 96.0L396.3 94.2L395.6 91.9L396.9 90.1L396.8 88.1L397.2 86.1L397.6 84.1L399.3 81.7L400.2 78.9L402.1 80.6L403.7 82.6L404.4 84.7L404.9 86.9L405.3 89.2L406.9 91.0L407.4 93.2L407.7 95.4L408.7 97.3L409.5 99.3L410.6 101.2L411.4 103.2L412.0 105.3L413.0 107.3L413.3 109.4L413.7 111.5L413.1 113.8L414.2 115.8L414.7 117.9L415.2 120.0L414.5 122.3L414.8 124.4L415.7 126.4L416.2 128.5L417.5 130.3L418.3 132.3L419.0 134.3L419.6 136.4L420.3 138.4L421.5 140.2L421.9 142.4L422.9 144.3L422.7 146.7L423.4 148.7L424.8 150.5L425.6 152.5L426.9 154.4L426.9 156.8L428.6 158.5L429.4 160.5L430.1 162.6L432.1 164.0L433.2 166.2L434.6 168.2L436.1 170.1L437.6 172.2L439.4 174.1L440.6 176.5L441.9 178.5L443.9 180.1L444.9 182.3L446.0 184.5L448.1 185.3L449.7 186.9L451.8 187.7L453.2 189.5L455.4 189.9L457.2 191.2L459.1 192.0L460.9 193.3L463.2 194.2L465.6 194.9L467.8 196.0L470.3 196.5L472.4 196.5L474.5 196.3L476.5 195.7L477.7 197.8L479.7 199.1L481.3 200.8L482.7 202.7L484.7 203.6L487.0 202.7L489.0 203.5L490.6 204.8L492.5 205.7L494.4 206.6L496.2 208.0L496.6 210.5L498.3 212.0L499.5 214.0L501.3 215.3L503.0 216.7L503.9 218.8L504.9 220.8L506.9 222.3L507.6 224.5L509.1 226.1L510.7 227.6L512.3 229.1L513.1 231.3L514.3 233.2L515.4 235.2L517.0 236.9L518.1 238.8L519.0 241.0L520.5 242.7L521.7 244.6L523.2 246.3L524.3 248.2L525.4 250.2L526.0 252.3L526.5 254.5L527.6 256.4L527.9 258.7L528.7 260.8L530.3 262.5L531.4 264.4L532.6 266.2L534.0 268.0L535.0 269.9L536.4 271.6L538.2 273.0L538.5 275.4L540.0 277.0L541.4 279.1L543.4 280.7L545.1 282.6L545.9 284.7L546.6 286.8L548.2 288.6L548.1 291.1L549.6 292.9L550.1 295.1L551.7 296.6L552.6 298.5L553.1 300.7L554.8 302.1L555.2 304.3L556.0 306.2L557.7 307.7L558.3 309.7L559.0 311.6L559.4 313.6L559.7 315.6L560.1 317.6L560.9 319.5L561.4 321.4L562.7 323.2L562.7 325.3L563.8 327.2L564.3 329.2L564.3 331.4L565.5 333.3L565.8 335.4L567.1 337.2L567.7 339.2L568.0 341.3L568.1 343.5L569.0 345.4L569.4 347.5L570.0 349.5L571.2 351.3L571.5 353.4L572.2 355.4L572.8 357.4L573.9 359.3L573.5 361.6L575.1 363.4L575.3 365.5L575.2 367.7L575.7 369.7L577.5 371.4L577.4 373.6L577.4 375.7L577.7 377.8L578.9 379.6L579.6 381.6L580.2 383.6L580.3 385.7L580.3 387.8L581.8 389.5L581.9 391.6L583.0 393.4L583.0 395.5L583.0 397.6L584.7 399.2L584.3 401.5L585.3 403.3L585.9 405.3L586.0 407.5L586.9 409.4L588.2 411.2L587.9 413.5L589.1 415.4L590.3 417.2L591.0 419.2L591.0 421.4L591.6 423.4L592.2 425.3L593.0 427.2L593.8 429.1L594.0 431.2L594.6 433.1L594.5 435.3L596.2 436.9L595.7 439.1L596.6 441.0L596.9 443.3L598.6 445.1L598.2 447.7L599.2 449.7L599.7 452.0L601.3 453.8L601.7 456.1L603.1 457.8L604.3 459.5L604.8 461.8L606.6 463.2L607.9 464.9L609.0 463.2L610.4 461.7L611.5 460.0L613.0 458.6L615.5 458.0L618.0 458.6L619.3 456.5L621.7 455.6L623.0 453.6L623.5 451.5L625.1 449.8L625.0 447.4L625.7 445.4L626.8 443.5L628.5 441.8L629.8 439.9L631.8 438.5L633.2 440.3L633.8 442.6L635.2 444.4L636.9 446.0L637.9 444.0L638.3 441.9L639.3 439.9L640.0 437.8L640.0 435.5L640.6 433.4L641.5 431.4L641.1 429.1L642.6 427.3L642.8 425.1L643.8 423.1L644.2 421.0L644.2 418.8L645.1 416.8L645.2 414.6L647.0 412.9L646.6 410.6L647.8 408.7L648.3 406.6L648.9 404.6L650.1 402.7L650.5 400.6L652.5 399.8L653.5 397.6L655.4 396.7L656.9 395.2L657.7 393.2L659.1 391.5L660.0 389.5L661.2 387.7L661.6 385.6L662.4 383.8L663.3 381.9L664.5 380.2L666.1 378.3L666.6 375.8L667.4 373.5L668.8 371.5L671.1 371.6L673.1 370.5L674.3 368.2L674.1 365.6L674.2 363.1L675.2 360.8L675.9 358.4L676.9 356.2L678.5 354.3L680.2 352.7L681.7 351.0L683.9 350.0L684.4 347.4L685.5 345.1L686.1 343.1L687.4 341.5L688.7 339.9L689.5 338.0L690.1 336.0L691.8 334.5L693.7 333.2L695.6 331.9L697.3 330.4L699.2 329.2L700.8 327.9L702.3 326.4L704.1 325.6L706.0 324.7L708.2 323.8L709.3 321.5L711.5 320.6L713.4 319.3L715.1 317.8L716.8 316.6L717.4 314.5L718.8 313.0L720.1 311.5L721.6 310.1L723.0 308.7L725.0 308.1L727.2 308.2L729.1 307.5L731.0 306.5L733.4 306.2L735.3 304.3L737.8 304.2L738.9 302.2L741.0 301.4L742.7 300.0L743.8 298.1L745.5 296.7L746.9 295.1L749.0 293.7L751.5 293.4L753.8 292.8L755.6 291.3L756.9 289.4L758.3 287.6L759.8 285.9L760.6 283.7L762.6 284.3L764.5 285.1L766.3 286.0L767.9 287.4L769.7 288.3L771.3 286.6L772.9 285.0L774.0 283.0L775.3 281.1L776.5 279.2L777.9 281.2L779.9 282.6L781.5 284.4L783.3 286.0L785.3 284.3L788.1 284.1L790.2 282.6L791.1 284.5L790.7 286.7L791.7 288.6L792.4 290.5L794.0 289.1L795.6 287.8L797.4 286.8L799.3 286.0L800.8 284.3L802.2 282.5L802.9 280.2L804.3 278.4L806.1 276.9L806.8 279.2L807.5 281.5L808.4 283.7L809.6 281.8L810.8 279.8L812.6 278.3L813.3 276.0L815.2 274.6L816.7 273.0L818.6 271.7L820.7 270.8L822.0 268.9L823.0 270.7L823.9 272.6L825.5 274.0L826.9 275.6L828.0 277.3L828.9 279.2L830.9 278.1L832.1 276.3L833.4 274.6L835.3 276.1L837.3 277.5L838.5 279.7L840.2 281.4L841.5 279.7L842.4 277.7L843.3 275.8L845.0 274.2L845.9 272.3L846.2 274.5L848.0 276.2L849.1 278.0L849.3 280.3L850.9 278.9L852.7 277.8L854.7 276.8L856.3 275.4L856.7 273.1L858.2 271.2L858.9 269.1L859.4 266.8L862.6 269.1L863.5 271.3L864.9 273.3L864.8 276.0L866.6 277.8L867.3 280.1L868.3 278.3L868.1 276.1L868.7 274.1L869.6 272.3L870.5 274.8L872.0 277.0L873.3 274.9L875.1 273.1L875.9 275.1L877.6 276.2L879.2 277.5L880.4 279.1L881.4 280.9L882.5 278.7L884.0 276.7L885.5 274.8L886.1 272.3L887.6 274.5L888.4 277.0L889.3 279.4L889.8 277.4L891.7 276.1L891.6 273.8L892.3 271.9L893.2 270.1L894.6 268.5L895.6 266.8L895.9 269.0L896.7 270.9L897.6 272.8L898.1 274.9L899.0 276.9L900.3 278.6L900.6 276.6L900.9 274.6L902.4 272.9L902.7 270.8L902.2 268.6L903.4 266.8L903.8 268.9L904.8 270.8L905.5 272.9L906.2 274.9L906.6 277.0L907.8 274.6L909.2 272.4L911.3 270.7L911.8 272.8L912.0 274.9L911.4 277.2L912.7 279.2L911.8 281.4L913.1 283.4L912.9 285.6L913.1 283.4L914.2 281.4L914.7 279.3L914.6 277.1L914.5 274.8L915.5 272.8L916.0 270.7L916.5 272.7L916.0 274.9L917.3 276.9L917.3 279.0L916.9 281.1L918.3 283.0L918.1 285.2L917.8 287.3L918.2 289.4L919.5 291.3L919.1 293.5L919.1 291.1L919.8 288.9L921.6 287.1L921.3 284.6L922.3 282.5L923.0 285.0L923.9 287.5L925.4 289.6L926.3 287.7L927.2 285.8L929.1 284.4L929.7 282.3L930.4 280.3L931.7 278.6L934.2 277.7L936.4 276.2L938.2 277.2L939.6 278.6L940.4 280.6L941.3 282.6L940.8 284.9L941.1 287.1L942.0 289.1L942.7 291.1L943.5 289.0L942.4 286.7L942.9 284.6L943.5 282.5L944.3 280.4L944.5 278.3L943.9 276.0L944.3 273.9L944.2 271.8L944.7 269.8L945.0 267.8L945.8 265.9L945.0 263.7L946.1 261.8L945.9 259.7L948.4 258.4L950.6 256.6L951.7 254.7L952.2 252.6L952.6 250.5L952.8 248.4L953.7 246.4L955.7 244.9L957.8 243.6L960.0 242.4L960.8 240.1L960.2 237.6L960.8 235.3L961.6 233.0L963.4 232.0L964.5 230.1L966.3 229.1L968.3 230.7L969.4 233.0L969.1 230.7L970.1 228.5L970.1 226.3L971.3 224.2L971.5 221.9L971.3 219.6L971.0 221.9L972.3 224.0L972.9 226.2L973.3 228.4L973.1 230.8L973.4 233.0L973.5 235.2L974.2 237.2L974.9 239.2L975.0 241.4L975.2 243.5L975.7 245.6L976.4 243.6L977.0 241.6L977.6 239.6L977.8 237.5L978.1 235.4L980.2 233.7L982.8 233.0L982.7 235.3L983.9 237.4L983.9 239.7L984.5 241.9L984.4 244.2L985.1 246.4L985.5 244.3L986.4 242.3L987.2 240.3L988.3 238.5L989.5 240.5L989.3 243.0L990.5 245.0L991.4 247.1L991.6 245.1L992.1 243.1L993.3 241.4L993.0 239.3L993.0 237.2L994.2 235.4L994.4 233.4L994.6 231.4L994.1 233.7L995.6 235.8L995.3 238.1L995.0 240.4L995.2 242.7L995.3 244.9L996.1 247.1L996.7 244.5L998.5 242.4L999.1 244.6L999.6 246.8L999.7 249.0L998.9 251.4L999.7 253.6L1000.1 255.8L1002.2 253.8L1003.2 251.1L1005.2 251.7L1007.1 252.6L1007.2 254.9L1008.4 256.9L1009.2 259.0L1009.5 261.3L1009.4 263.4L1009.4 265.6L1010.8 267.5L1010.4 269.7L1010.7 271.8L1011.1 273.9L1011.7 271.6L1012.9 269.5L1013.6 267.2L1015.0 265.2L1015.6 267.5L1015.7 269.9L1015.5 272.3L1015.6 274.7L1016.0 277.0L1016.1 274.6L1016.4 272.2L1017.3 269.9L1018.1 267.6L1018.7 269.8L1020.1 271.6L1020.5 273.9L1021.0 271.6L1021.7 269.4L1023.2 267.4L1023.7 265.1L1024.4 262.9L1025.8 265.1L1026.5 267.4L1026.9 269.9L1027.6 272.3L1028.0 270.1L1028.4 267.8L1028.0 265.5L1028.4 263.3L1029.5 261.1L1029.4 258.8L1029.9 256.6L1031.0 258.7L1031.7 260.9L1031.6 263.4L1033.3 265.3L1033.8 267.6L1034.6 265.4L1034.9 263.1L1035.7 260.9L1037.0 258.8L1037.8 256.6L1037.8 254.2L1038.4 256.1L1039.0 258.1L1038.6 260.2L1039.7 262.0L1040.4 263.9L1040.1 266.0L1042.3 267.3L1044.8 267.6L1044.9 265.5L1045.6 263.4L1045.2 261.3L1046.0 259.2L1045.6 257.1L1045.4 255.0L1045.4 252.8L1046.3 250.8L1046.4 248.7L1047.0 251.1L1047.5 253.6L1049.3 255.6L1049.6 258.1L1050.8 256.1L1051.5 253.9L1052.7 251.9L1052.8 254.0L1053.5 256.1L1053.4 258.2L1053.2 260.3L1052.8 262.4L1054.0 264.4L1053.6 266.5L1053.3 268.7L1053.2 270.8L1054.5 272.8L1054.7 274.9L1054.3 277.0L1055.0 274.9L1055.2 272.7L1054.6 270.5L1054.1 268.3L1055.4 266.2L1054.7 264.0L1055.6 261.9L1055.1 259.7L1055.6 257.5L1056.3 255.3L1055.8 253.0L1057.0 250.9L1056.6 248.6L1057.4 246.4L1057.6 248.5L1057.0 250.5L1057.1 252.6L1058.0 254.6L1058.0 256.7L1057.8 258.8L1057.6 260.8L1057.7 262.9" stroke="#000000" stroke-width="3.9"/>
</g>
<g fill="none" stroke-width="1.3">
<path d="M92.7 14.4V722.4H1118.9" stroke="#262626"/>
<path d="M92.7 14.4h10M92.7 132.4h10M92.7 250.4h10M92.7 368.4h10M92.7 486.4h10M92.7 604.4h10M279.3 722.4v-10M465.9 722.4v-10M652.4 722.4v-10M839.0 722.4v-10M1025.6 722.4v-10" stroke="#262626"/>
<path d="M1118.9 14.4V722.4M1118.9 14.4h-10M1118.9 132.4h-10M1118.9 250.4h-10M1118.9 368.4h-10M1118.9 486.4h-10M1118.9 604.4h-10" stroke="#ff0000"/>
<path d="M1265.0 14.4V722.4M1265.0 14.4h-12.5M1265.0 156.0h-12.5M1265.0 297.6h-12.5M1265.0 439.2h-12.5M1265.0 580.8h-12.5M1265.0 722.4h-12.5" stroke="#00ff00"/>
</g>
<g font-size="38.5" fill="#111" text-anchor="end">
<text x="81" y="28.8">2</text>
<text x="81" y="146.8">1</text>
<text x="81" y="264.8">0</text>
<text x="81" y="382.8">-1</text>
<text x="81" y="500.8">-2</text>
<text x="81" y="618.8">-3</text>
<text x="81" y="736.8">-4</text>
</g>
<g font-size="38.5" fill="#111" text-anchor="middle">
<text x="92.7" y="772.3">0</text>
<text x="279.3" y="772.3">200</text>
<text x="465.9" y="772.3">400</text>
<text x="652.4" y="772.3">600</text>
<text x="839.0" y="772.3">800</text>
<text x="1025.6" y="772.3">1000</text>
</g>
<g font-size="38.5" fill="#ff0000">
<text x="1129.5" y="28.8">1</text>
<text x="1129.5" y="146.8">0</text>
<text x="1129.5" y="264.8">-1</text>
<text x="1129.5" y="382.8">-2</text>
<text x="1129.5" y="500.8">-3</text>
<text x="1129.5" y="618.8">-4</text>
<text x="1129.5" y="736.8">-5</text>
</g>
<g font-size="38.5" fill="#00ff00">
<text x="1275.5" y="28.8">5</text>
<text x="1275.5" y="170.4">0</text>
<text x="1275.5" y="312.0">-5</text>
<text x="1275.5" y="453.6">-10</text>
<text x="1275.5" y="595.2">-15</text>
<text x="1275.5" y="736.8">-20</text>
</g>
<text x="440.66" y="823.6" font-size="42" textLength="317.1" lengthAdjust="spacing" fill="#111">Temperature / °C</text>
<text transform="translate(32.7 630.94) rotate(-90)" font-size="42" textLength="511.6" lengthAdjust="spacing" fill="#111">Temperature difference / °C</text>
<text transform="translate(1211.8 615.25) rotate(-90)" font-size="42" textLength="477.95" lengthAdjust="spacing" fill="#ff0000">Relative mass change / %</text>
<text transform="translate(1389.7 588.75) rotate(-90)" font-size="42" textLength="411.35" lengthAdjust="spacing" fill="#00ff00">Mass change rate / °C</text>
<text transform="translate(1369 177) rotate(-90)" font-size="33" fill="#00ff00">-1</text>
</svg></body></html>
